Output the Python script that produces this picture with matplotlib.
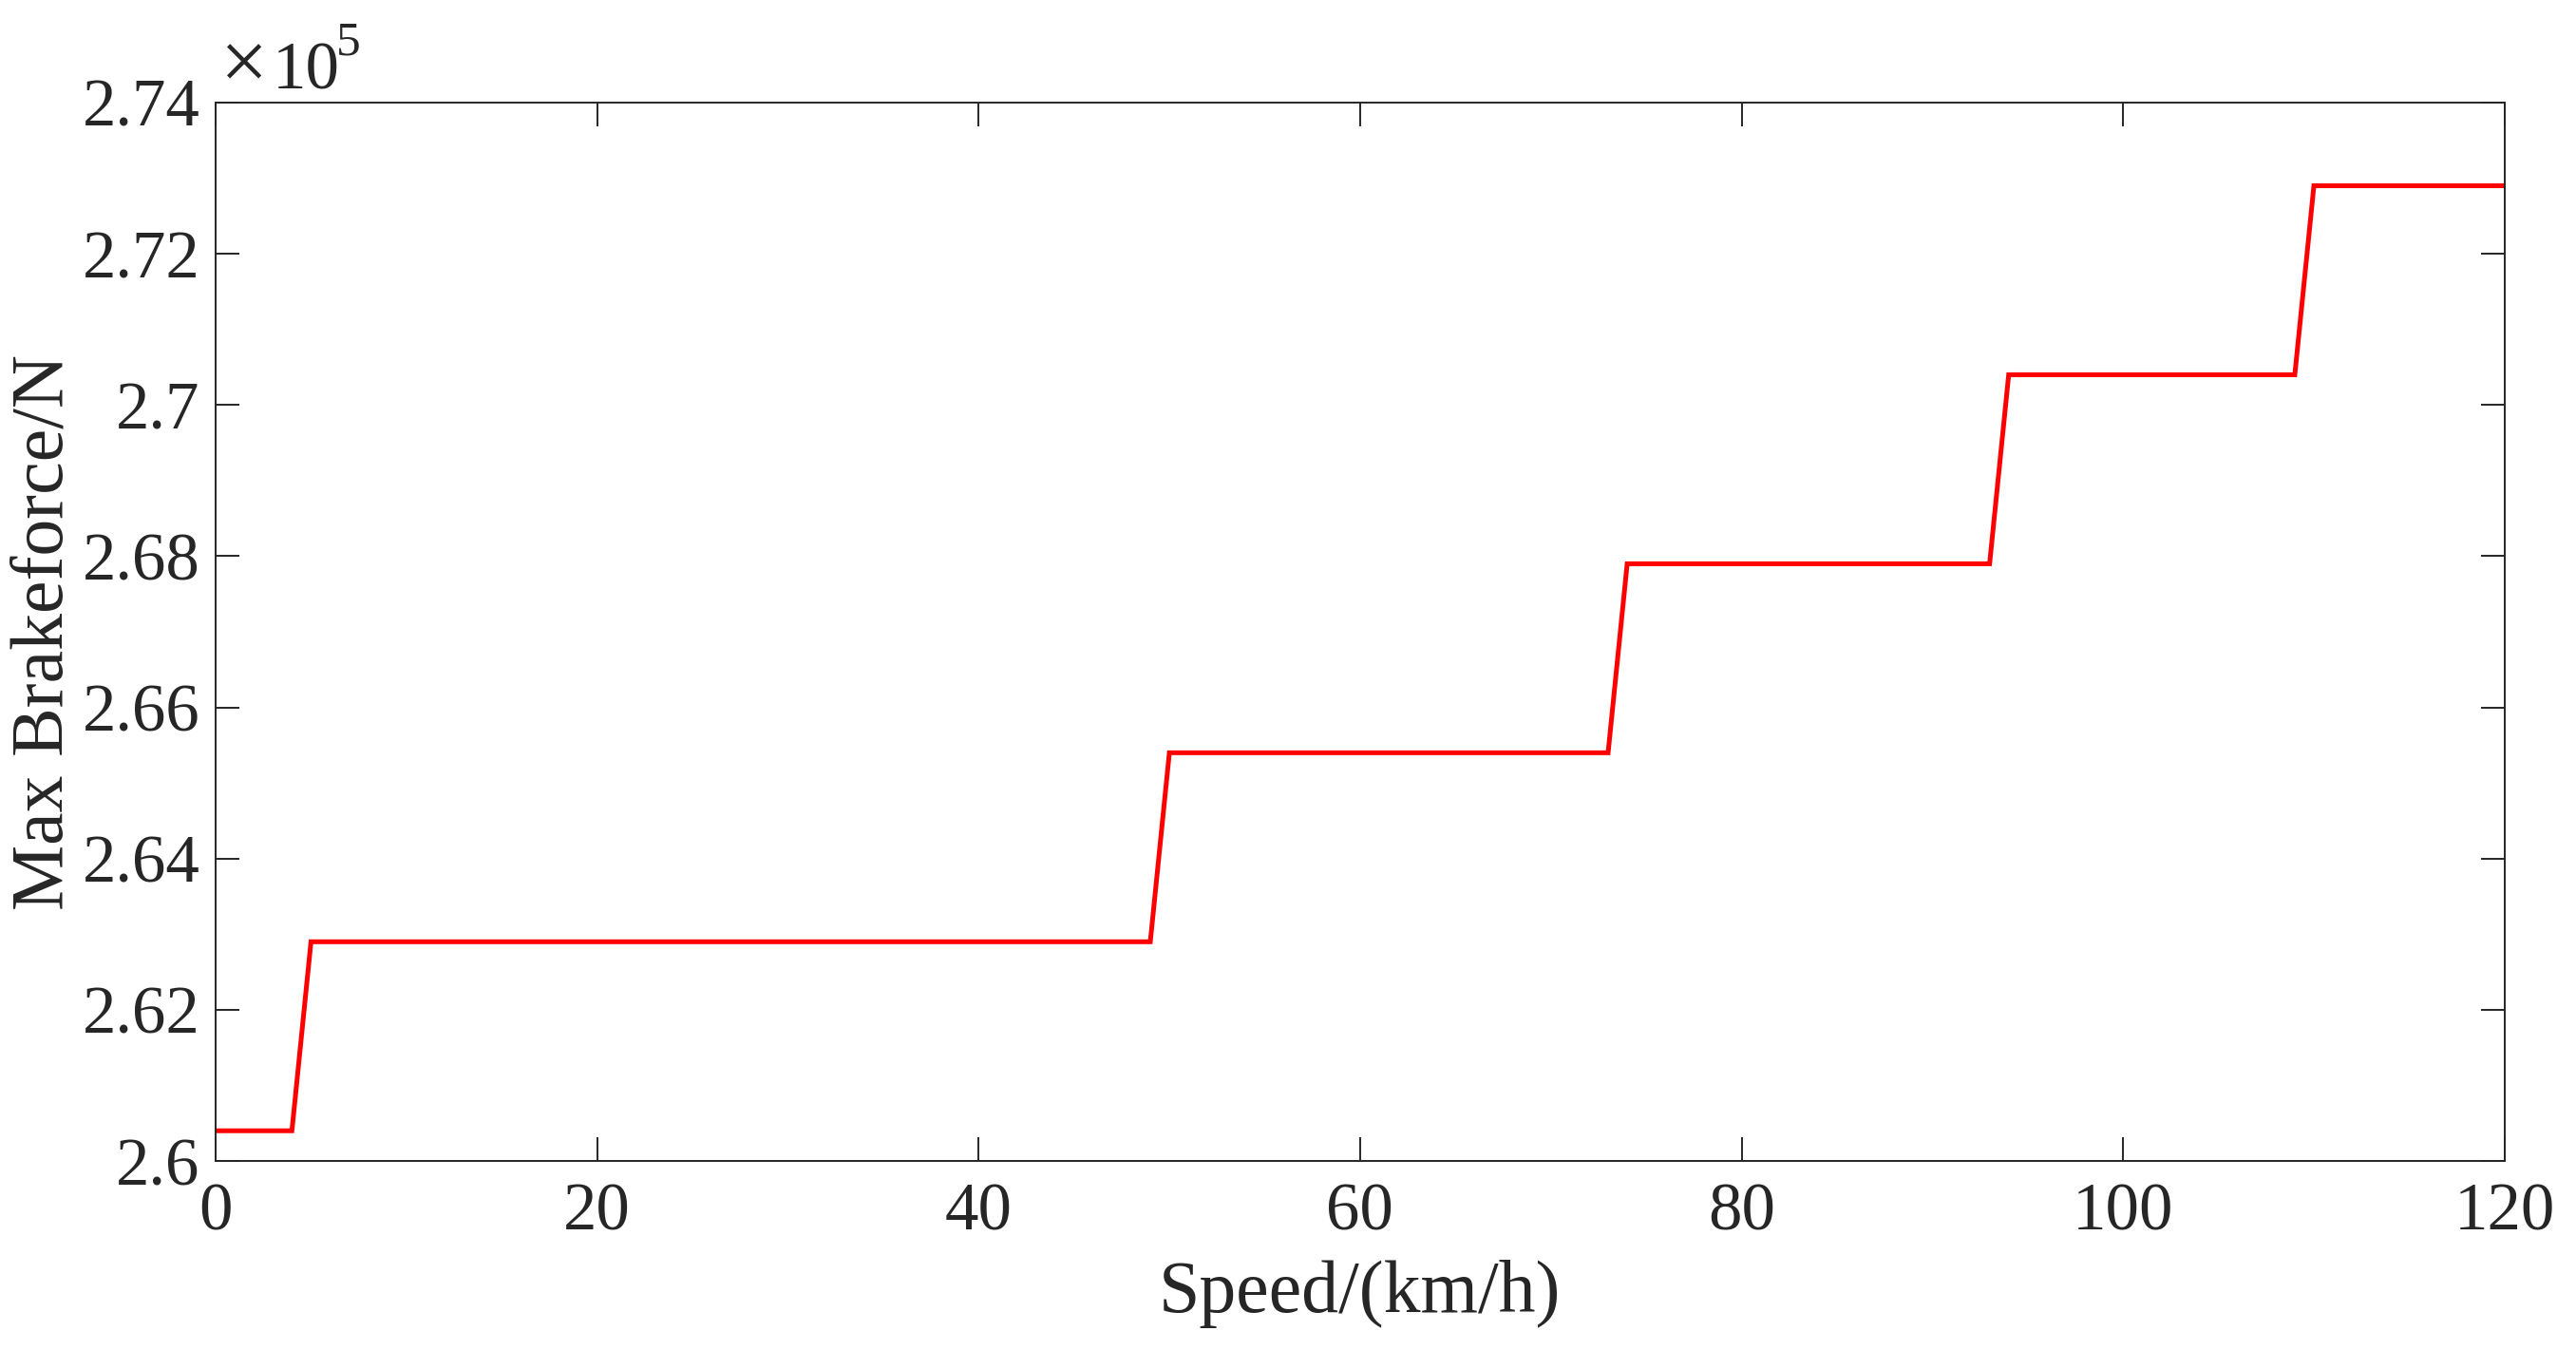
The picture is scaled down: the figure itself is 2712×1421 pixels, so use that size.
import numpy as np
import matplotlib
matplotlib.use("Agg")
import matplotlib.pyplot as plt
from matplotlib.ticker import FormatStrFormatter

# speed breakpoints (km/h) and max brake force (N)
speed = [0, 4, 5, 49, 50, 73, 74, 93, 94, 109, 110, 120]
force = [260400, 260400, 262900, 262900, 265400, 265400,
         267900, 267900, 270400, 270400, 272900, 272900]

x_ticks = [0, 20, 40, 60, 80, 100, 120]
y_ticks = [2.60, 2.62, 2.64, 2.66, 2.68, 2.70, 2.72, 2.74]

plt.rcParams['font.family'] = ['Liberation Serif', 'DejaVu Serif']

axcol = "#262626"

fig = plt.figure(figsize=(27.12, 14.21), dpi=100)
ax = fig.add_axes([0.0837, 0.140, 0.9723 - 0.0837, 0.924 - 0.140])

ax.plot(speed, np.array(force) / 1e5, color="red", linewidth=3.6,
        solid_joinstyle="miter")

ax.set_xlim(0, 120)
ax.set_ylim(2.60, 2.74)
ax.set_xticks(x_ticks)
ax.set_yticks(y_ticks)
ax.yaxis.set_major_formatter(FormatStrFormatter('%g'))

ax.tick_params(direction="in", length=18, width=1.4, colors=axcol,
               labelsize=51, top=True, right=True, pad=12)
ax.tick_params(axis="x", pad=16)
for s in ax.spines.values():
    s.set_linewidth(1.4)
    s.set_color(axcol)

ax.set_xlabel("Speed/(km/h)", fontsize=56, color=axcol, labelpad=12)
ax.set_ylabel("Max Brakeforce/N", fontsize=56, color=axcol, labelpad=3)

# exponent label, drawn by hand like the MATLAB one
fig.text(232 / 2712, 1 - 94 / 1421, "\u00d7", fontsize=64, color=axcol,
         ha="left", va="baseline")
fig.text(287 / 2712, 1 - 94 / 1421, "10", fontsize=51, color=axcol,
         ha="left", va="baseline")
fig.text(354 / 2712, 1 - 58 / 1421, "5", fontsize=37, color=axcol,
         ha="left", va="baseline")

fig.savefig("out.png", dpi=100, facecolor="white")
